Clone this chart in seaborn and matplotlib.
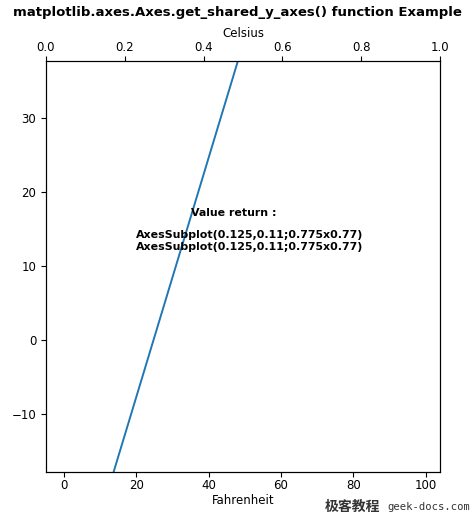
import matplotlib
matplotlib.use("Agg")
import matplotlib.pyplot as plt
import seaborn as sns

# data: a straight line (index vs Fahrenheit values)
line_x = [0, 99]
line_y = [-40, 120]
y_limits = [-17.78, 37.78]   # Celsius of 0 F and 100 F
top_ticks = [0.0, 0.2, 0.4, 0.6, 0.8, 1.0]
returned = "AxesSubplot(0.125,0.11;0.775x0.77)"

sns.set_style("ticks")
plt.rcParams['font.family'] = ['DejaVu Sans']
for key in ('text.color', 'axes.labelcolor', 'xtick.color', 'ytick.color'):
    plt.rcParams[key] = 'black'
plt.rcParams['xtick.major.size'] = 3.5
plt.rcParams['ytick.major.size'] = 3.5

fig = plt.figure(figsize=(4.74, 5.15), dpi=100)
ax_f = fig.add_axes([0.097, 0.0835, 0.831, 0.7985])
ax_c = ax_f.twiny()

sns.lineplot(x=line_x, y=line_y, ax=ax_f, color='#1f77b4', linewidth=1.4)
ax_f.set_ylim(*y_limits)
ax_f.set_xlim(-4.95, 103.95)
ax_f.set_yticks([-10, 0, 10, 20, 30])
ax_f.set_xticks([0, 20, 40, 60, 80, 100])
ax_f.set_xlabel('Fahrenheit', fontsize=8.5, labelpad=1.5)
ax_f.tick_params(labelsize=8.5, length=3.5, width=0.8)
ax_f.tick_params(axis='x', pad=1.5)

ax_c.set_xlim(0, 1)
ax_c.set_xticks(top_ticks)
ax_c.set_xlabel('Celsius', fontsize=8.5, labelpad=3)
ax_c.tick_params(labelsize=8.5, length=3.5, width=0.8, pad=1.5)

for a in (ax_f, ax_c):
    for s in a.spines.values():
        s.set_visible(True)
        s.set_color('black')
        s.set_linewidth(0.8)

fig.text(0.5, 0.976, 'matplotlib.axes.Axes.get_shared_y_axes() function Example',
         fontsize=9.5, fontweight='bold', ha='center', va='center')

ax_f.text(47.0, 17.2, 'Value return :', fontsize=7.95, fontweight='bold',
          ha='center', va='center')
ax_f.text(51.4, 13.4, returned + '\n' + returned, fontsize=7.95,
          fontweight='bold', ha='center', va='center', linespacing=1.2)

fig.text(0.685, 0.008, '极客教程', fontsize=10, family=['Noto Sans CJK SC', 'DejaVu Sans'],
         color='#333333', fontweight='bold')
fig.text(0.818, 0.01, 'geek-docs.com', fontsize=7.6, family=['DejaVu Sans Mono'],
         color='#333333')

fig.savefig('out.png', dpi=100)
